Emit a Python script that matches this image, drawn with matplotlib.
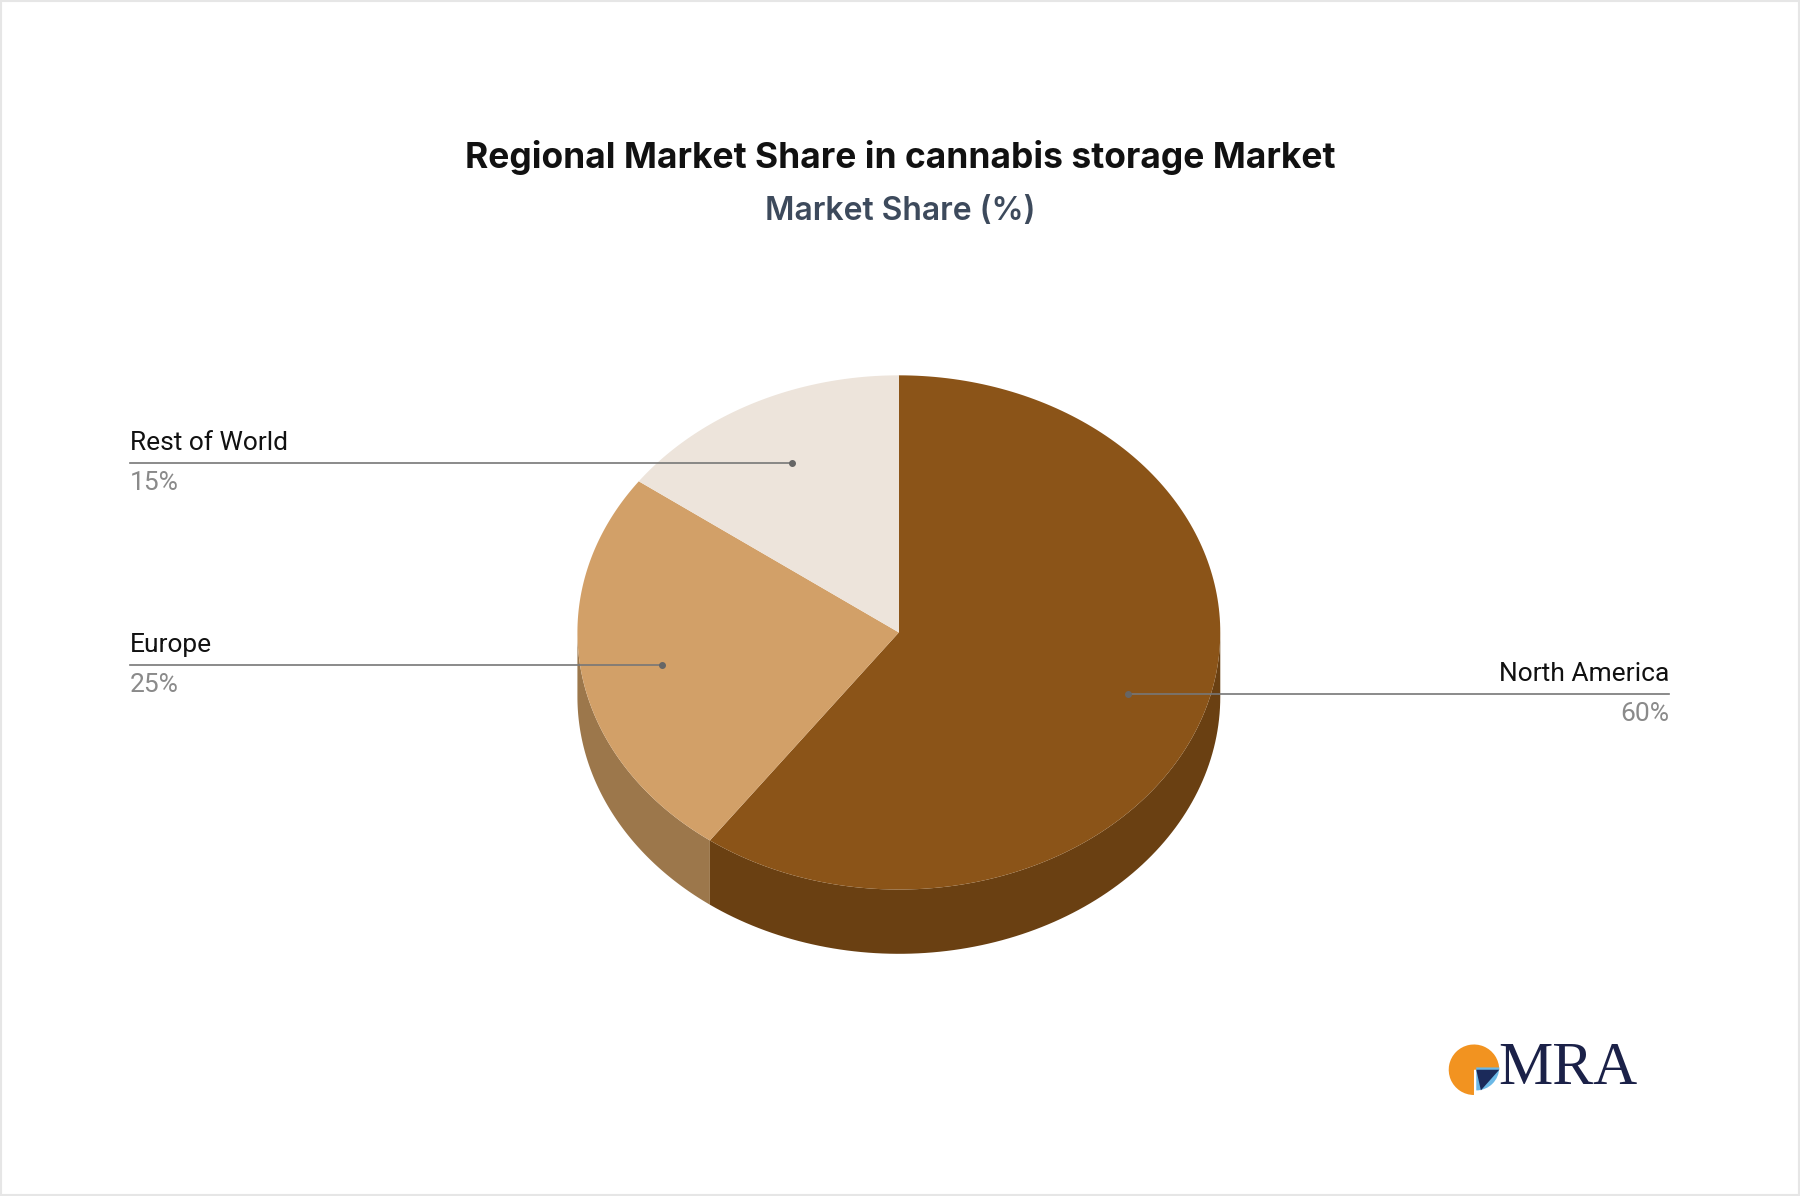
import matplotlib.pyplot as plt
import numpy as np
from matplotlib.patches import Polygon, Wedge, Rectangle

regions = ["North America", "Europe", "Rest of World"]
shares = [60, 25, 15]
top_colors = ["#8B5418", "#D2A068", "#EDE4DB"]
side_colors = ["#6A4012", "#9C774B", "#CFC6BD"]

# layout in reference pixel space (1568 x 1042)
W, H = 1568, 1042
cx, cy, rx, ry, depth = 783, 551, 280, 224, 56

fig = plt.figure(figsize=(18, 11.96), dpi=100)
ax = fig.add_axes([0, 0, 1, 1])
ax.set_xlim(0, W)
ax.set_ylim(H, 0)
ax.axis("off")
ax.add_patch(Rectangle((1, 1), W - 2, H - 2, fill=False, ec="#E6E6E6", lw=1.5))


def pt(t, dy=0.0):
    t = np.radians(t)
    return cx + rx * np.cos(t), cy - ry * np.sin(t) + dy


# slice angles, clockwise from top
bounds = []
start = 90.0
for s in shares:
    end = start - s * 3.6
    bounds.append((end, start))
    start = end

# sides (front half only)
for (a0, a1), col in zip(bounds, side_colors):
    lo, hi = max(a0, -180), min(a1, 0)
    if lo >= hi:
        continue
    ts = np.linspace(lo, hi, 100)
    top = [pt(t) for t in ts]
    bot = [pt(t, depth) for t in ts[::-1]]
    ax.add_patch(Polygon(top + bot, closed=True, fc=col, ec="none"))

# tops
for (a0, a1), col in zip(bounds, top_colors):
    ts = np.linspace(a0, a1, 200)
    poly = [(cx, cy)] + [pt(t) for t in ts]
    ax.add_patch(Polygon(poly, closed=True, fc=col, ec="none"))

fam = ["Roboto", "DejaVu Sans"]
ax.text(784, 137, "Regional Market Share in cannabis storage Market", ha="center",
        va="center", fontsize=25.5, fontweight="bold", family="Inter", color="#111111")
ax.text(784, 184, "Market Share (%)", ha="center", va="center", fontsize=23,
        fontweight="semibold", family="Inter", color="#3D4A5C")

# leader lines: (text x, line y, dot x, align)
labels = [
    (1454, 605, 983, "right"),
    (113, 579, 577, "left"),
    (113, 403, 690, "left"),
]
for name, val, (tx, ly, dx, al) in zip(regions, shares, labels):
    ax.plot([tx, dx], [ly, ly], color="#777777", lw=1.2)
    ax.plot(dx, ly, "o", color="#666666", ms=4)
    ax.text(tx, ly - 7, name, ha=al, va="bottom", fontsize=19, family=fam, color="#111111")
    ax.text(tx, ly + 7, f"{val}%", ha=al, va="top", fontsize=19, family=fam, color="#8A8A8A")

# logo
ax.add_patch(Wedge((1284, 932), 22, 90, 360, fc="#F29320", ec="none"))
ax.add_patch(Wedge((1286, 930), 20, 0, 90, fc="#6BB8E6", ec="none"))
ax.add_patch(Polygon([(1286, 932), (1306, 932), (1290, 950)], fc="#1B2A5A", ec="none"))
ax.text(1366, 932, "MRA", ha="center", va="center", fontsize=44, family="Liberation Serif",
        color="#1B2148")

fig.savefig("out.png", dpi=100)
